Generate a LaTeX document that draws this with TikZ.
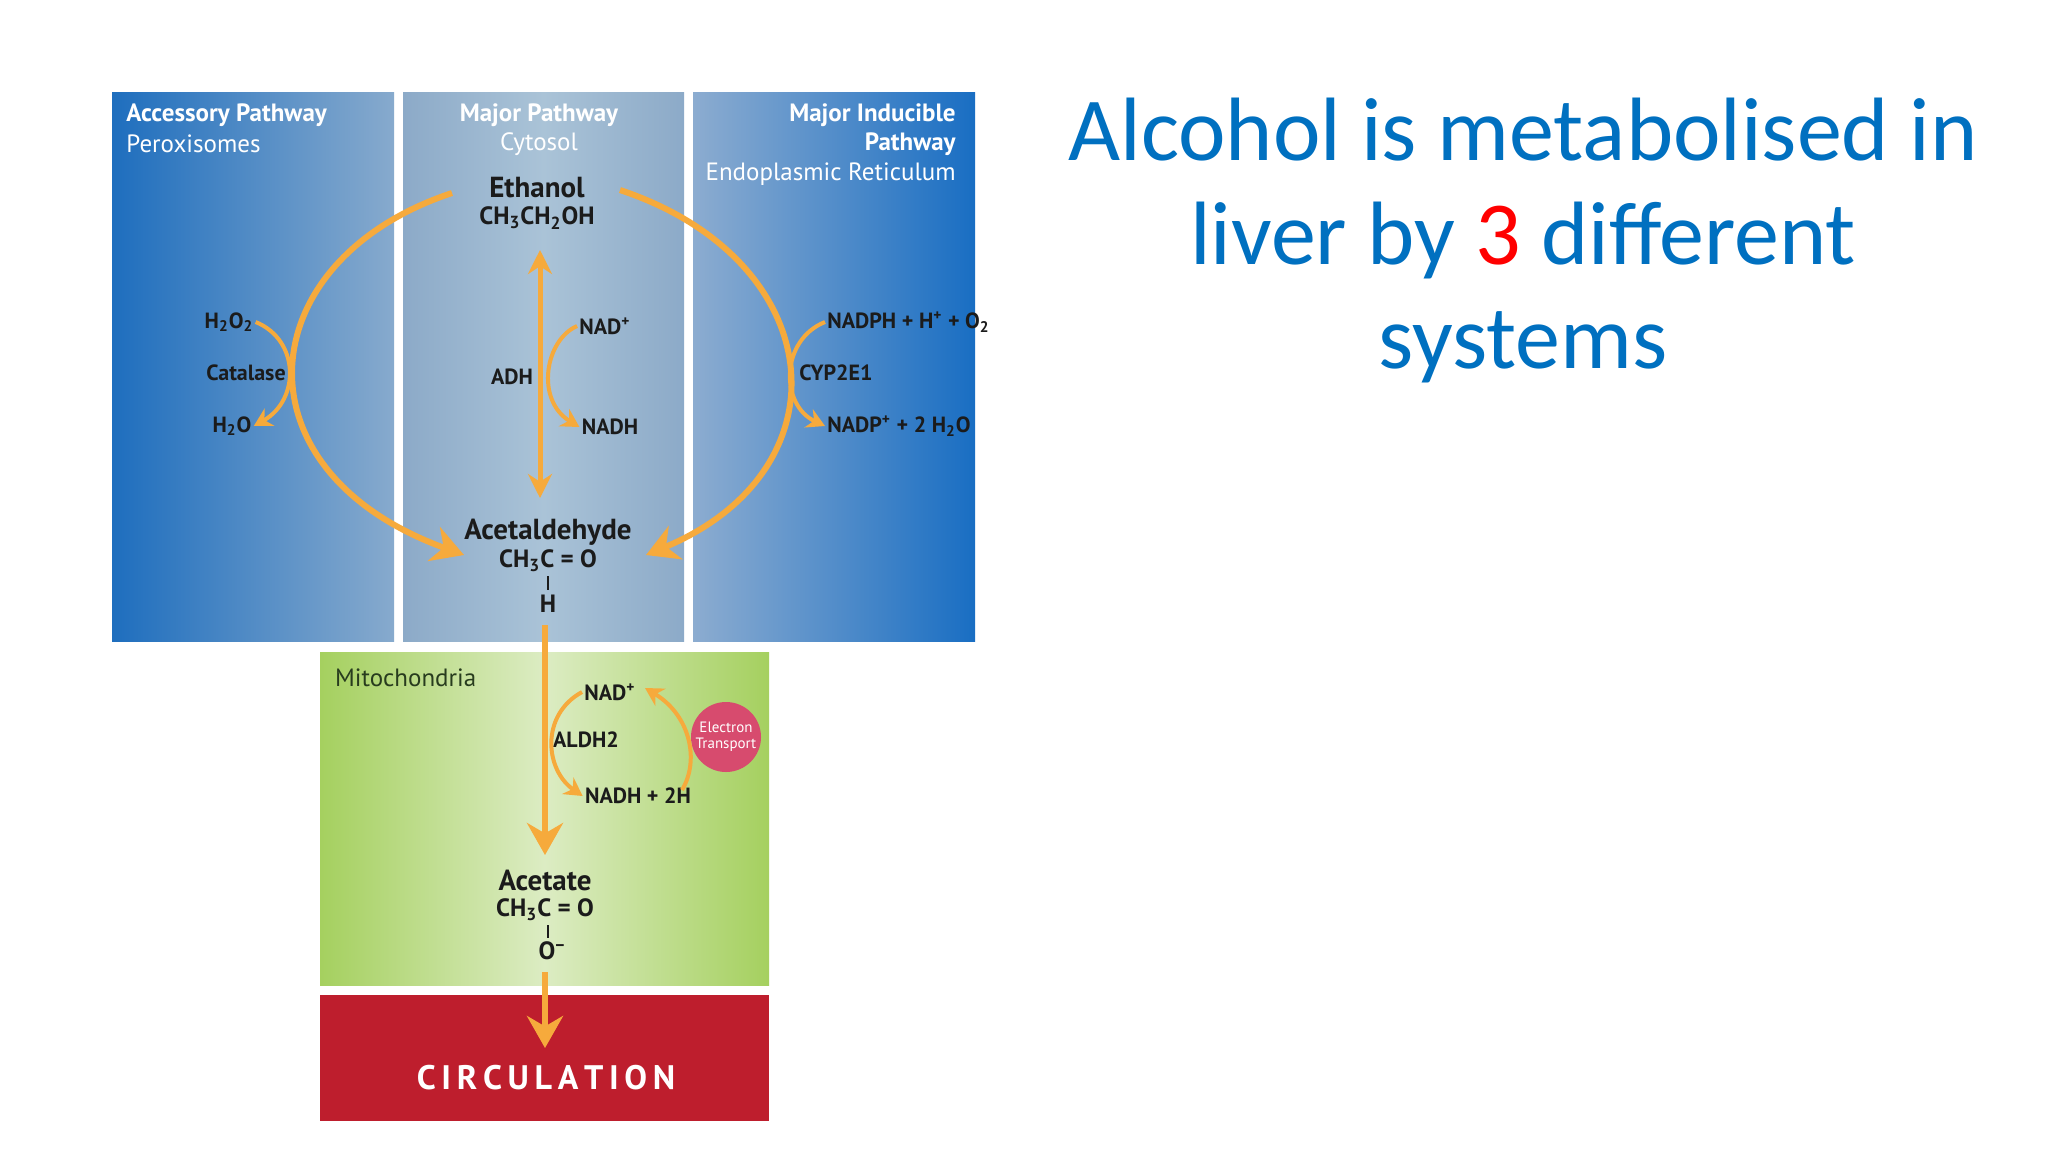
\documentclass[tikz,border=0pt]{standalone}
\usepackage{fontspec}
\setmainfont{PT Sans}
\newfontfamily\titlefont{Carlito}
\usetikzlibrary{arrows.meta}
\definecolor{org}{HTML}{F6AA3C}
\definecolor{ttl}{HTML}{0070C0}
\definecolor{dk}{HTML}{1B1B1B}
\definecolor{bdark}{RGB}{30,110,190}
\definecolor{blight}{RGB}{135,170,205}
\definecolor{mside}{RGB}{140,170,200}
\definecolor{mmid}{RGB}{170,195,215}
\definecolor{rleft}{RGB}{140,172,208}
\definecolor{rright}{RGB}{25,110,195}
\definecolor{gside}{RGB}{165,208,95}
\definecolor{gmid}{RGB}{220,236,195}
\definecolor{cred}{RGB}{190,30,45}
\definecolor{etc}{RGB}{215,75,110}
\definecolor{mitotxt}{RGB}{40,60,30}
\tikzset{
 lbl/.style={font=\fontsize{11}{13}\selectfont\bfseries, text=dk, inner sep=1pt},
 big/.style={font=\fontsize{14.5}{16}\selectfont\bfseries, text=dk, inner sep=1pt},
 frm/.style={font=\fontsize{12.5}{14}\selectfont\bfseries, text=dk, inner sep=1pt},
 hd/.style={font=\fontsize{12.5}{14}\selectfont\bfseries, text=white, inner sep=1pt},
 sub/.style={font=\fontsize{12.5}{14}\selectfont, text=white, inner sep=1pt},
 oarr/.style={draw=org, line width=3pt, -{Stealth[length=16pt,width=18pt]}},
 sarr/.style={draw=org, line width=2pt, -{Stealth[length=9pt,width=10pt]}},
}
\begin{document}
\begin{tikzpicture}[x=0.5pt,y=-0.5pt]
\useasboundingbox (0,0) rectangle (2048,1152);
\fill[white] (0,0) rectangle (2048,1152);
% panels
\shade[left color=bdark, right color=blight] (112,92) rectangle (394,641);
\shade[left color=mside, right color=mside, middle color=mmid] (403,92) rectangle (684,641);
\shade[left color=rleft, right color=rright] (693,92) rectangle (975,641);
\shade[left color=gside, right color=gside, middle color=gmid] (320,652) rectangle (769,985);
\fill[cred] (320,995) rectangle (769,1121);
% headers
\node[hd,anchor=west] (h1) at (124,115) {Accessory Pathway};
\node[sub,anchor=west] (s1) at (124,144) {Peroxisomes};
\node[hd] (h2) at (539,115) {Major Pathway};
\node[sub] (s2) at (539,144) {Cytosol};
\node[hd,anchor=east] (h3a) at (958,115) {Major Inducible};
\node[hd,anchor=east] (h3b) at (958,144) {Pathway};
\node[sub,anchor=east] (s3) at (958,174) {Endoplasmic Reticulum};
% molecules
\node[big] (eth) at (537,188) {Ethanol};
\node[frm] (ethf) at (537,218) {CH\textsubscript{3}CH\textsubscript{2}OH};
\node[big] (acd) at (548,532) {Acetaldehyde};
\node[frm] (acdf) at (548,561) {CH\textsubscript{3}C = O};
\node[frm] (acdh) at (548,604) {H};
\draw[dk,line width=1.2pt] (548,576) -- (548,590);
\node[big] (ace) at (545,880) {Acetate};
\node[frm] (acef) at (545,910) {CH\textsubscript{3}C = O};
\draw[dk,line width=1.2pt] (548,925) -- (548,938);
\node[frm] (aceo) at (552,951) {O\textsuperscript{−}};
% labels
\node[lbl] (h2o2) at (229,322) {H\textsubscript{2}O\textsubscript{2}};
\node[lbl] (cat) at (246,373) {Catalase};
\node[lbl] (h2o) at (232,426) {H\textsubscript{2}O};
\node[lbl] (adh) at (512,377) {ADH};
\node[lbl] (nadp) at (605,326) {NAD\textsuperscript{+}};
\node[lbl] (nadh) at (610,427) {NADH};
\node[lbl,anchor=west] (nadph) at (825,322) {NADPH + H\textsuperscript{+} + O\textsubscript{2}};
\node[lbl,anchor=west] (cyp) at (797,373) {CYP2E1};
\node[lbl,anchor=west] (nadpp) at (825,426) {NADP\textsuperscript{+} + 2 H\textsubscript{2}O};
\node[font=\fontsize{12.5}{14}\selectfont, text=mitotxt, anchor=west] (mito) at (328,678) {Mitochondria};
\node[lbl] (mnad) at (610,692) {NAD\textsuperscript{+}};
\node[lbl] (aldh) at (586,740) {ALDH2};
\node[lbl] (mnadh) at (638,796) {NADH + 2H};
\node[circle, fill=etc, minimum size=35pt, inner sep=0pt, align=center, text=white, font=\fontsize{7.5}{8}\selectfont] (et) at (726,737) {Electron\\Transport};
\node[font=\fontsize{17}{19}\selectfont\bfseries, text=white] (circ) at (546,1078) {C\,I\,R\,C\,U\,L\,A\,T\,I\,O\,N};
% big arcs
\coordinate (la) at (452,193);
\coordinate (ra) at (620,190);
\coordinate (lend) at (464,555);
\coordinate (rend) at (646,555);
\draw[oarr] (la) .. controls (250,260) and (230,470) .. (lend);
\draw[oarr] (ra) .. controls (830,260) and (850,470) .. (rend);
% ADH
\coordinate (adht) at (540,250);
\coordinate (adhb) at (540,498);
\draw[draw=org, line width=2.5pt, {Stealth[length=12pt,width=12pt]}-{Stealth[length=12pt,width=12pt]}] (adht) -- (adhb);
\draw[sarr] (nadp.west) .. controls (545,340) and (535,400) .. (nadh.west);
% catalase
\draw[sarr] (h2o2.east) .. controls (300,340) and (300,400) .. (h2o.east);
% CYP
\draw[sarr] (nadph.west) .. controls (780,340) and (780,405) .. (nadpp.west);
% mitochondria
\coordinate (m1) at (545,625);
\coordinate (m2) at (545,855);
\draw[oarr] (m1) -- (m2);
\draw[sarr] (mnad.west) .. controls (540,715) and (545,770) .. (mnadh.west);
\coordinate (et1) at (682,790);
\coordinate (et2) at (645,688);
\draw[sarr] (et1) .. controls (700,760) and (690,715) .. (et2);
\coordinate (c1) at (545,972);
\coordinate (c2) at (545,1048);
\draw[oarr] (c1) -- (c2);
% title
\node[font=\titlefont\fontsize{45}{52}\selectfont, text=ttl, align=center] (title) at (1523,240) {Alcohol is metabolised in\\liver by \textcolor{red}{3} different\\systems};
\end{tikzpicture}
\end{document}
